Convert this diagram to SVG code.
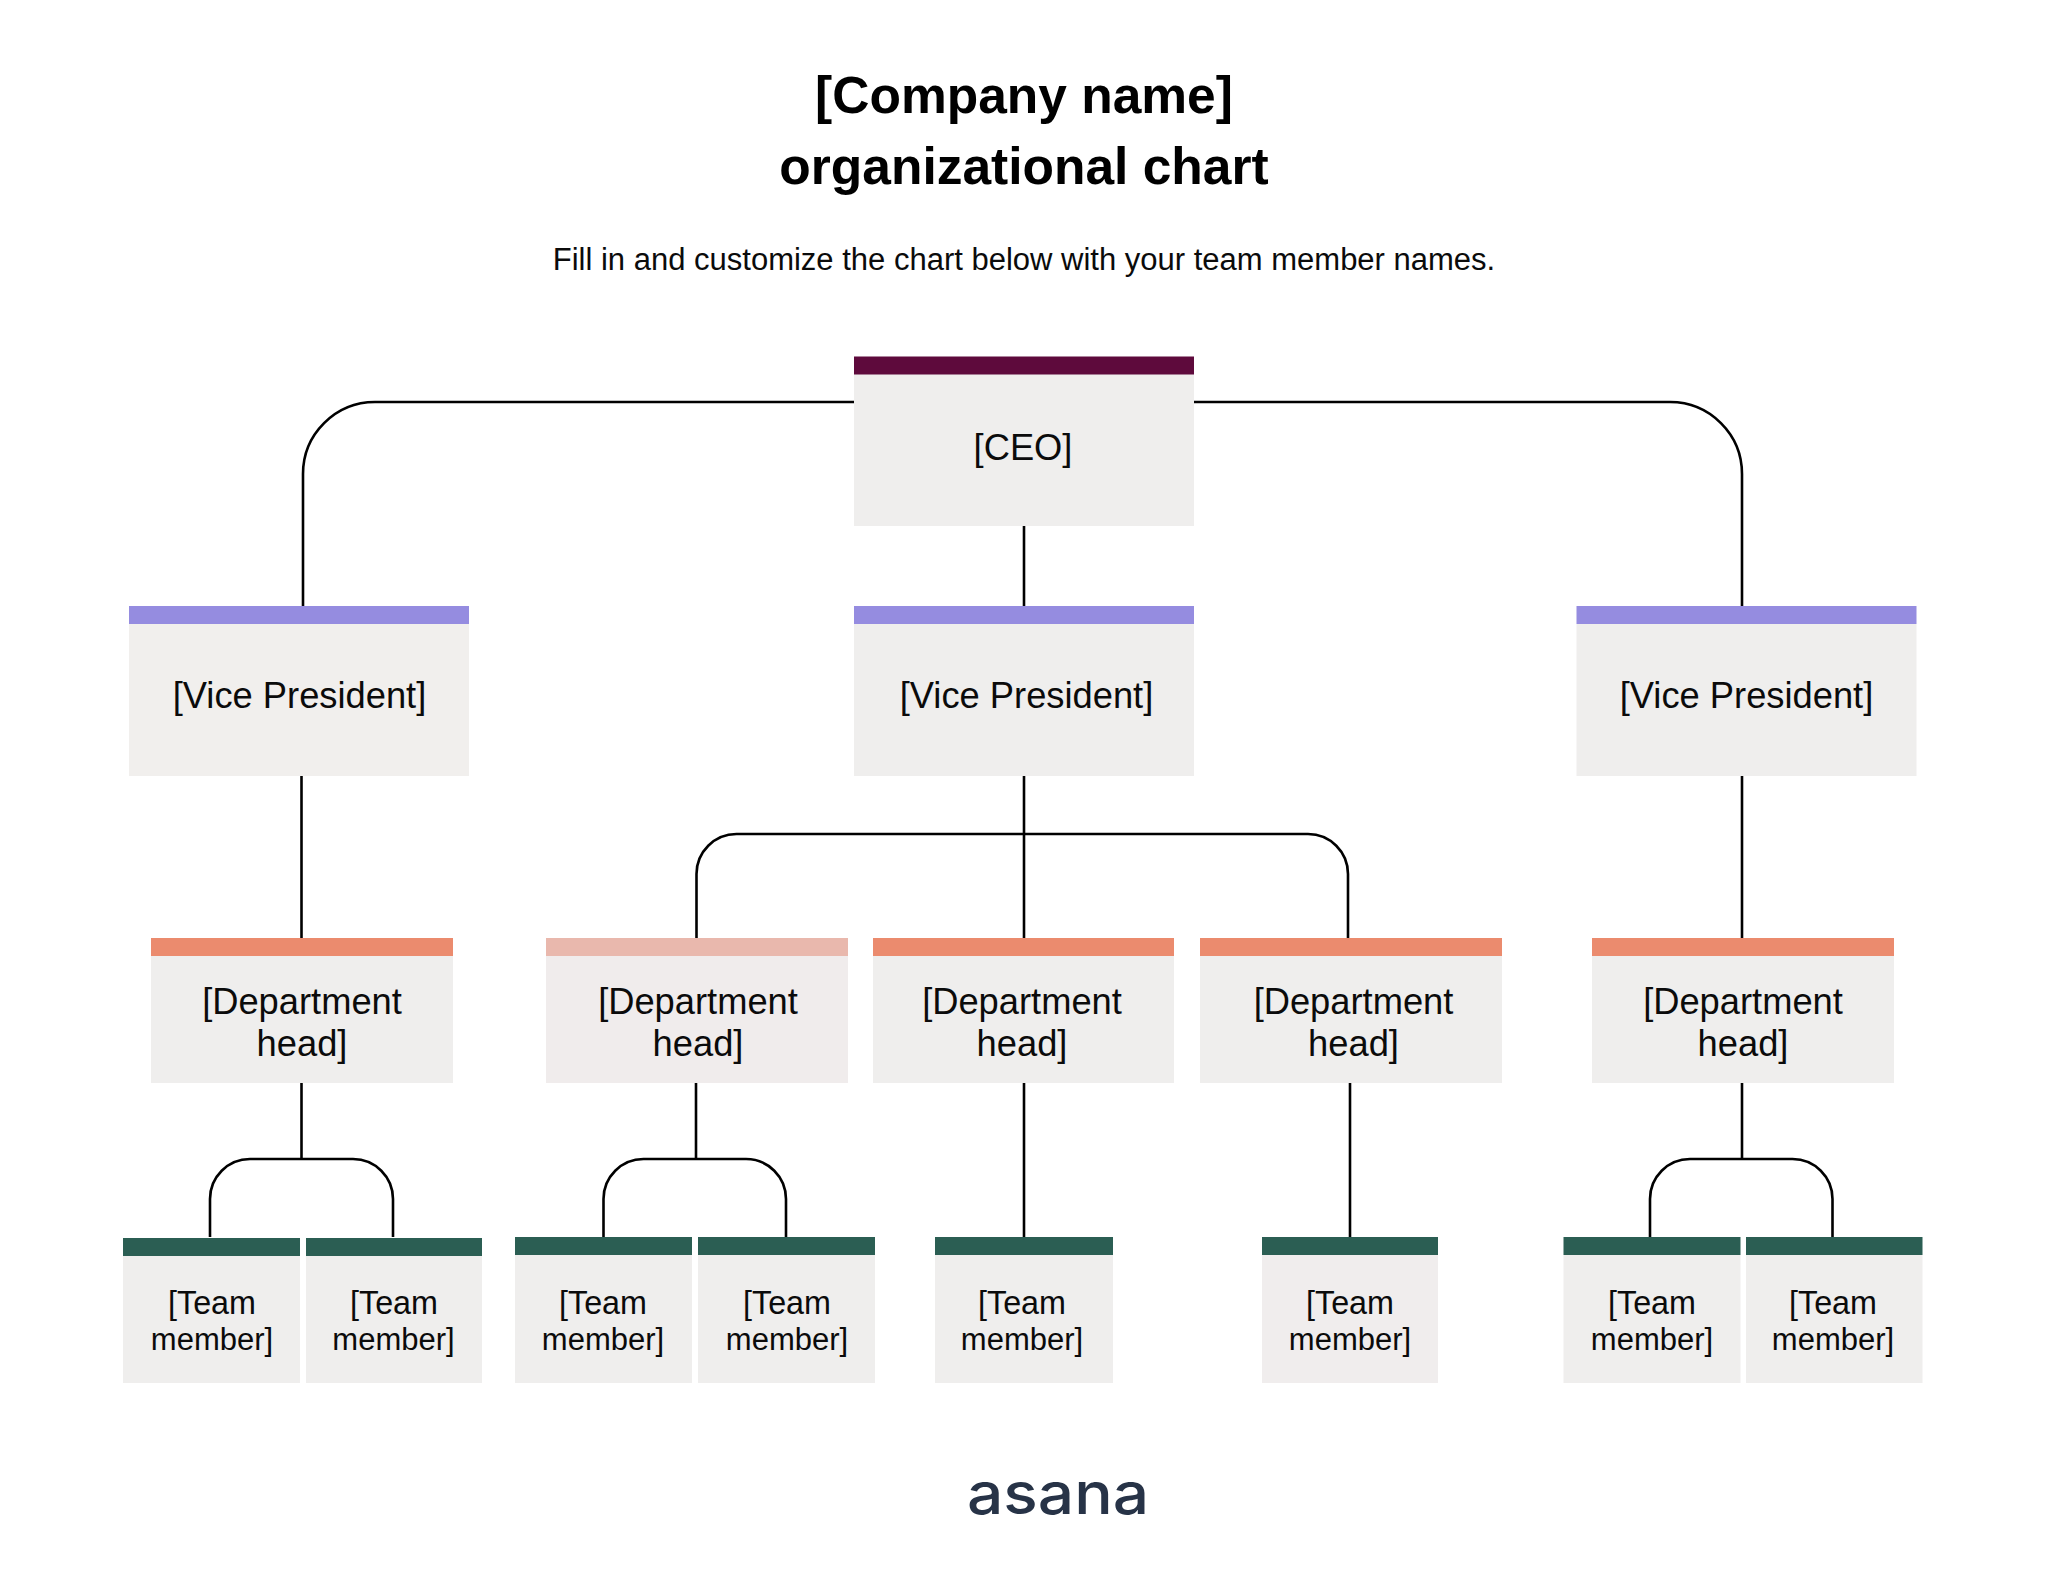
<svg xmlns="http://www.w3.org/2000/svg" width="2048" height="1582" viewBox="0 0 2048 1582">
<style>
text{font-family:"Liberation Sans",Arial,sans-serif;fill:#0b0b0b;text-anchor:middle}
.title{font-size:51.5px;font-weight:700;fill:#000}
.sub{font-size:31px}
.l{font-size:36.300px}
.t{font-size:31px}
.t1{font-size:32.300px}
.box{fill:#efeeed}
.ceo{fill:#5e0a3c}.vp{fill:#958ce0}.dh{fill:#eb8b6e}.tm{fill:#2b5e53}
.c{fill:none;stroke:#000;stroke-width:2.6}
</style>
<rect width="2048" height="1582" fill="#fff"/>
<g id="header">
<text class="title" x="1024" y="113">[Company name]</text>
<text class="title" x="1024" y="184">organizational chart</text>
<text class="sub" x="1024" y="270">Fill in and customize the chart below with your team member names.</text>
</g>
<g id="connectors">
<path class="c" d="M854 402H375A72 72 0 0 0 303 474V620"/>
<path class="c" d="M1194 402H1670A72 72 0 0 1 1742 474V606"/>
<path class="c" d="M1024 526V606"/>
<path class="c" d="M301.500 776V938"/>
<path class="c" d="M1024 776V938"/>
<path class="c" d="M1742 776V938"/>
<path class="c" d="M696.500 938V874A40 40 0 0 1 736.500 834H1308A40 40 0 0 1 1348 874V942"/>
<path class="c" d="M301.500 1083V1159"/>
<path class="c" d="M210 1237V1199A40 40 0 0 1 250 1159H353A40 40 0 0 1 393 1199V1237"/>
<path class="c" d="M696 1083V1159"/>
<path class="c" d="M603.500 1237V1199A40 40 0 0 1 643.500 1159H746A40 40 0 0 1 786 1199V1237"/>
<path class="c" d="M1024 1083V1237"/>
<path class="c" d="M1350 1083V1237"/>
<path class="c" d="M1742 1083V1159"/>
<path class="c" d="M1650 1237V1199A40 40 0 0 1 1690 1159H1792.500A40 40 0 0 1 1832.500 1199V1237"/>
</g>
<g id="ceo"><rect class="box" x="854" y="374" width="340" height="152"/><rect class="ceo" x="854" y="356.500" width="340" height="18"/><text class="l" x="1023" y="460">[CEO]</text></g>
<g id="vp-left"><rect x="129" y="624" width="340" height="152" fill="#f1efed"/><rect class="vp" x="129" y="606" width="340" height="18"/><text class="l" x="299.500" y="708">[Vice President]</text></g>
<g id="vp-center"><rect class="box" x="854" y="624" width="340" height="152"/><rect class="vp" x="854" y="606" width="340" height="18"/><text class="l" x="1026.500" y="708">[Vice President]</text></g>
<g id="vp-right"><rect class="box" x="1576.500" y="624" width="340" height="152"/><rect class="vp" x="1576.500" y="606" width="340" height="18"/><text class="l" x="1746.500" y="708">[Vice President]</text></g>
<g id="dept-1"><rect class="box" x="151" y="956" width="302" height="127"/><rect class="dh" x="151" y="938" width="302" height="18"/><text class="l" x="302" y="1014">[Department</text><text class="l" x="302" y="1056">head]</text></g>
<g id="dept-2"><rect x="546" y="956" width="302" height="127" fill="#f0ecec"/><rect x="546" y="938" width="302" height="18" fill="#e9b8ad"/><text class="l" x="698" y="1014">[Department</text><text class="l" x="698" y="1056">head]</text></g>
<g id="dept-3"><rect class="box" x="873" y="956" width="301" height="127"/><rect class="dh" x="873" y="938" width="301" height="18"/><text class="l" x="1022" y="1014">[Department</text><text class="l" x="1022" y="1056">head]</text></g>
<g id="dept-4"><rect class="box" x="1200" y="956" width="302" height="127"/><rect class="dh" x="1200" y="938" width="302" height="18"/><text class="l" x="1353.500" y="1014">[Department</text><text class="l" x="1353.500" y="1056">head]</text></g>
<g id="dept-5"><rect class="box" x="1592" y="956" width="302" height="127"/><rect class="dh" x="1592" y="938" width="302" height="18"/><text class="l" x="1743" y="1014">[Department</text><text class="l" x="1743" y="1056">head]</text></g>
<g id="team-1"><rect class="box" x="123" y="1255" width="177" height="128"/><rect class="tm" x="123" y="1238" width="177" height="18"/><text class="t1" x="212" y="1314">[Team</text><text class="t" x="212" y="1350">member]</text></g>
<g id="team-2"><rect class="box" x="306" y="1255" width="176" height="128"/><rect class="tm" x="306" y="1238" width="176" height="18"/><text class="t1" x="394" y="1314">[Team</text><text class="t" x="393.500" y="1350">member]</text></g>
<g id="team-3"><rect class="box" x="515" y="1255" width="177" height="128"/><rect class="tm" x="515" y="1237" width="177" height="18"/><text class="t1" x="603" y="1314">[Team</text><text class="t" x="603" y="1350">member]</text></g>
<g id="team-4"><rect class="box" x="698" y="1255" width="177" height="128"/><rect class="tm" x="698" y="1237" width="177" height="18"/><text class="t1" x="787" y="1314">[Team</text><text class="t" x="787" y="1350">member]</text></g>
<g id="team-5"><rect class="box" x="935" y="1255" width="178" height="128"/><rect class="tm" x="935" y="1237" width="178" height="18"/><text class="t1" x="1022" y="1314">[Team</text><text class="t" x="1022" y="1350">member]</text></g>
<g id="team-6"><rect x="1262" y="1255" width="176" height="128" fill="#f0eded"/><rect class="tm" x="1262" y="1237" width="176" height="18"/><text class="t1" x="1350" y="1314">[Team</text><text class="t" x="1350" y="1350">member]</text></g>
<g id="team-7"><rect class="box" x="1563.500" y="1255" width="177" height="128"/><rect class="tm" x="1563.500" y="1237" width="177" height="18"/><text class="t1" x="1652" y="1314">[Team</text><text class="t" x="1652" y="1350">member]</text></g>
<g id="team-8"><rect class="box" x="1746" y="1255" width="176.500" height="128"/><rect class="tm" x="1746" y="1237" width="176.500" height="18"/><text class="t1" x="1833" y="1314">[Team</text><text class="t" x="1833" y="1350">member]</text></g>
<g id="logo"><text x="1058" y="1514" style="font-family:Inter,'Liberation Sans',sans-serif;font-size:58px;font-weight:500;fill:#273347" textLength="182" lengthAdjust="spacingAndGlyphs">asana</text></g>
</svg>
